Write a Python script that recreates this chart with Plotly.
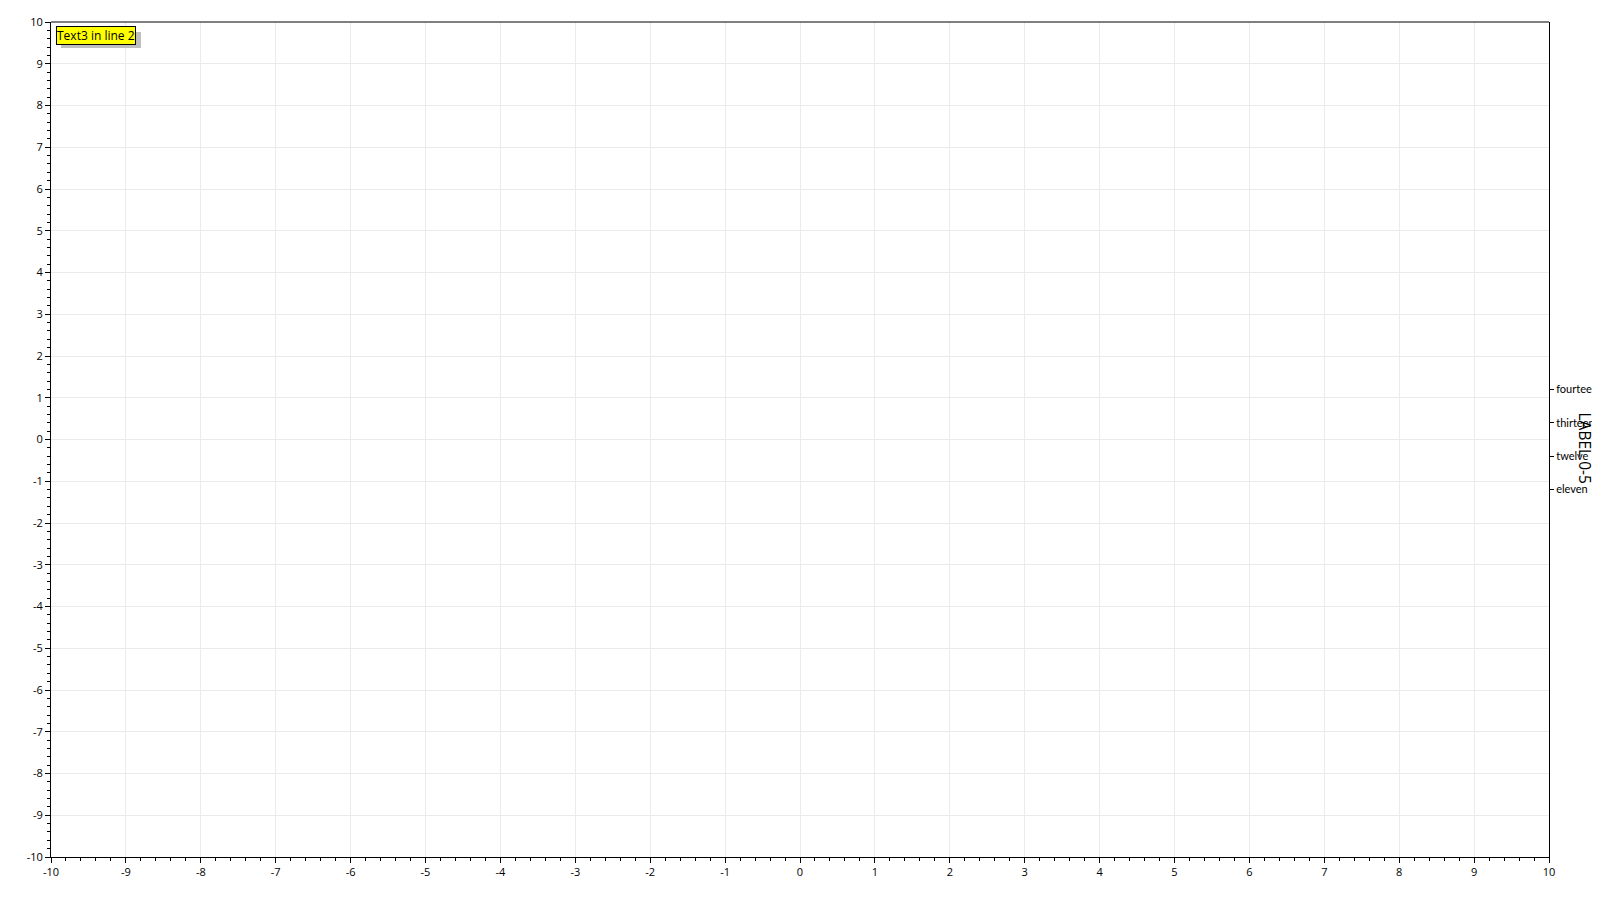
import plotly.graph_objects as go

x_range = [-10, 10]
y_range = [-10, 10]
major_vals = list(range(-10, 11))
major_text = ["-10", "-9", "-8", "-7", "-6", "-5", "-4", "-3", "-2", "-1", "0",
              "1", "2", "3", "4", "5", "6", "7", "8", "9", "10"]
right_tick_vals = [-1.2, -0.4, 0.4, 1.2]
right_tick_text = ["eleven", "twelve", "thirteen", "fourteen"]
right_title = "LABEL 0-5"
note_text = "Text3 in line 2"

font = dict(family="Open Sans", size=11, color="black")

fig = go.Figure()
fig.add_trace(go.Scatter(x=[None], y=[None], showlegend=False, hoverinfo="skip"))
fig.add_trace(go.Scatter(x=[None], y=[None], yaxis="y2", showlegend=False, hoverinfo="skip"))

axis_common = dict(
    showline=True, linecolor="black", linewidth=1, mirror=False,
    showgrid=True, gridcolor="#ebebeb", gridwidth=1,
    zeroline=False, ticks="outside", ticklen=5, tickcolor="black",
    tickfont=font, tickmode="array", tickvals=major_vals, ticktext=major_text,
    minor=dict(ticks="outside", ticklen=3, tickcolor="black", dtick=0.2, showgrid=False),
)

# page body has an 8px margin; figure reaches the right edge of the window
fig.update_layout(
    width=1592, height=876,
    margin=dict(l=43, r=51, t=14, b=27, autoexpand=False),
    paper_bgcolor="white", plot_bgcolor="white",
    font=font,
    xaxis=dict(range=x_range, **axis_common),
    yaxis=dict(range=y_range, **axis_common),
    yaxis2=dict(
        overlaying="y", side="right", range=y_range,
        tickvals=right_tick_vals, ticktext=right_tick_text,
        showline=True, linecolor="black", showgrid=False, zeroline=False,
        ticks="outside", ticklen=4, tickcolor="black",
        tickfont=dict(family="Lato", size=11, color="black"),
    ),
    showlegend=False,
)

# top border line of plot area
fig.add_shape(type="line", xref="paper", yref="paper", x0=0, x1=1, y0=1, y1=1,
              line=dict(color="black", width=1))

# shadow of note box
fig.add_shape(
    type="rect", xref="paper", yref="paper",
    xsizemode="pixel", ysizemode="pixel", xanchor=0, yanchor=1,
    x0=10, x1=90, y0=-10, y1=-26,
    fillcolor="#bfbfbf", line=dict(width=0), layer="above",
)
fig.add_annotation(
    xref="paper", yref="paper", x=0, y=1, xanchor="left", yanchor="top",
    text=note_text, showarrow=False, font=dict(family="Open Sans", size=12, color="black"),
    bgcolor="yellow", bordercolor="black", borderwidth=1, borderpad=0,
    xshift=5, yshift=-4,
)

# right axis title, reading top to bottom
fig.add_annotation(
    xref="paper", yref="paper", x=1, y=0.5, xanchor="center", yanchor="middle",
    xshift=36, yshift=-8, text=right_title, textangle=90, showarrow=False,
    font=dict(family="Open Sans", size=15.5, color="black"),
)

fig.write_html("out.html")
